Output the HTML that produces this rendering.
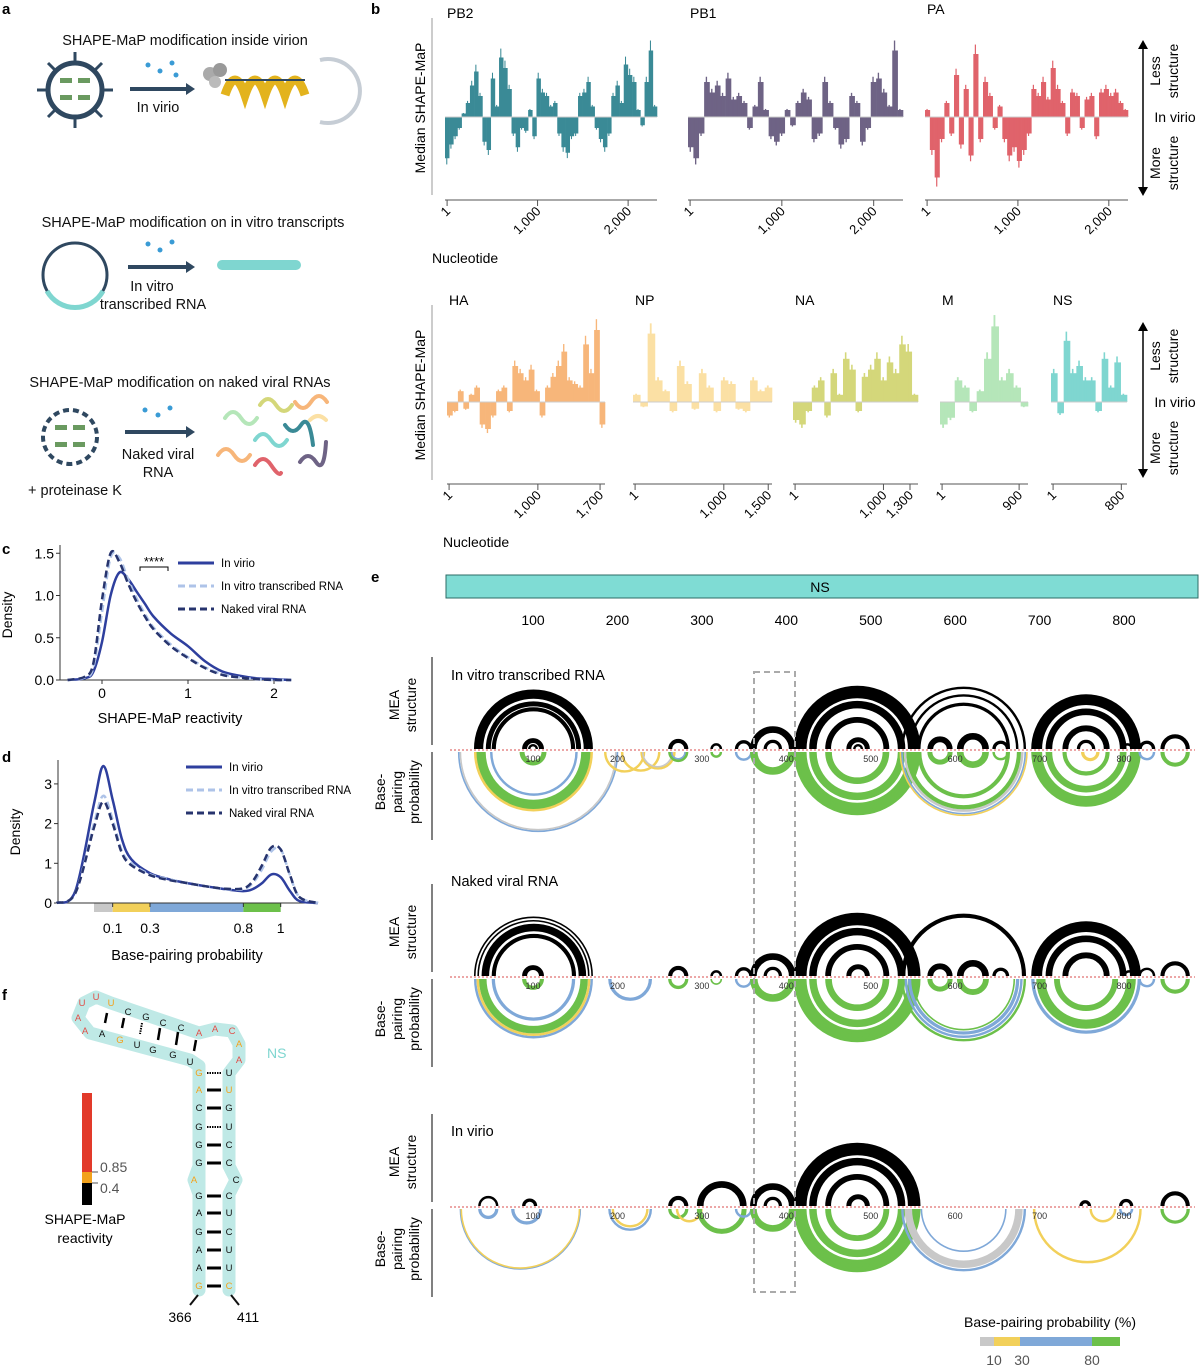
<!DOCTYPE html>
<html><head><meta charset="utf-8"><style>
html,body{margin:0;padding:0;background:#fff}
svg{display:block;font-family:"Liberation Sans",sans-serif}
</style></head><body>
<svg id="fig" width="1200" height="1367" viewBox="0 0 1200 1367">
<g id="labels" font-weight="bold" font-size="15">
<text x="2" y="14">a</text>
<text x="371" y="14">b</text>
<text x="2" y="554">c</text>
<text x="2" y="762">d</text>
<text x="371" y="582">e</text>
<text x="2" y="1000">f</text>
</g>

<!-- Panel a -->
<g font-size="14.5" fill="#111" text-anchor="middle">
<text x="185" y="45">SHAPE-MaP modification inside virion</text>
<g>
<circle cx="75" cy="90" r="27" fill="none" stroke="#2f4860" stroke-width="5"/>
<g stroke="#2f4860" stroke-width="3"><line x1="75" y1="63" x2="75" y2="52"/><line x1="75" y1="117" x2="75" y2="128"/><line x1="48" y1="90" x2="37" y2="90"/><line x1="102" y1="90" x2="113" y2="90"/><line x1="56" y1="71" x2="48" y2="63"/><line x1="94" y1="71" x2="102" y2="63"/><line x1="56" y1="109" x2="48" y2="117"/><line x1="94" y1="109" x2="102" y2="117"/></g>
<g fill="#6a9a60"><rect x="60" y="78" width="12" height="5"/><rect x="78" y="78" width="12" height="5"/><rect x="60" y="95" width="12" height="5"/><rect x="78" y="95" width="12" height="5"/></g>
</g>
<g fill="#3a9bd5"><circle cx="148" cy="65" r="2.5"/><circle cx="160" cy="71" r="2.5"/><circle cx="172" cy="63" r="2.5"/><circle cx="176" cy="75" r="2.5"/></g>
<line x1="130" y1="89" x2="186" y2="89" stroke="#2f4860" stroke-width="4"/><polygon points="186,83 195,89 186,95" fill="#2f4860"/>
<text x="158" y="112">In virio</text>
<g>
<circle cx="210" cy="74" r="7" fill="#aaa"/><circle cx="220" cy="70" r="7" fill="#999"/><circle cx="215" cy="82" r="6" fill="#bbb"/>
<path d="M225 95 Q235 65 245 95 Q255 65 265 95 Q275 65 285 95 Q295 65 305 95" fill="none" stroke="#e3b31d" stroke-width="9"/>
<path d="M225 80 L305 80" stroke="#2f4860" stroke-width="2"/>
<path d="M320 60 A32 32 0 1 1 320 122" fill="none" stroke="#c6cdd5" stroke-width="4"/>
</g>
<text x="193" y="227">SHAPE-MaP modification on in vitro transcripts</text>
<circle cx="75" cy="275" r="32" fill="none" stroke="#2f4860" stroke-width="3"/>
<path d="M47 291 A32 32 0 0 0 103 291" fill="none" stroke="#7fd6d0" stroke-width="5"/>
<g fill="#3a9bd5"><circle cx="148" cy="244" r="2.5"/><circle cx="160" cy="250" r="2.5"/><circle cx="172" cy="242" r="2.5"/></g>
<line x1="128" y1="267" x2="186" y2="267" stroke="#2f4860" stroke-width="4"/><polygon points="186,261 195,267 186,273" fill="#2f4860"/>
<text x="152" y="291">In vitro</text>
<text x="153" y="309">transcribed RNA</text>
<line x1="222" y1="265" x2="296" y2="265" stroke="#7fd6d0" stroke-width="10" stroke-linecap="round"/>
<text x="180" y="387">SHAPE-MaP modification on naked viral RNAs</text>
<circle cx="70" cy="437" r="27" fill="none" stroke="#2f4860" stroke-width="4" stroke-dasharray="6 4"/>
<g fill="#6a9a60"><rect x="55" y="425" width="12" height="5"/><rect x="73" y="425" width="12" height="5"/><rect x="55" y="442" width="12" height="5"/><rect x="73" y="442" width="12" height="5"/></g>
<g fill="#3a9bd5"><circle cx="145" cy="410" r="2.5"/><circle cx="158" cy="415" r="2.5"/><circle cx="170" cy="408" r="2.5"/></g>
<line x1="125" y1="432" x2="186" y2="432" stroke="#2f4860" stroke-width="4"/><polygon points="186,426 195,432 186,438" fill="#2f4860"/>
<text x="158" y="459">Naked viral</text>
<text x="158" y="477">RNA</text>
<text x="75" y="495">+ proteinase K</text>
<g fill="none" stroke-width="4" stroke-linecap="round">
<path d="M225 418 q8 -12 16 0 t16 0" stroke="#b5e6b9"/><path d="M260 405 q8 -12 16 0 t16 0" stroke="#d4d77a"/><path d="M295 402 q8 12 16 0 t16 0" stroke="#f7b67a"/>
<path d="M255 440 q8 -12 16 0 t16 0" stroke="#7fd6d0"/><path d="M285 425 q8 12 16 0 t12 20" stroke="#3a8a96"/><path d="M218 455 q8 -12 16 0 t16 0" stroke="#f7b67a"/>
<path d="M255 465 q8 -12 16 0 t10 8" stroke="#e0636b"/><path d="M300 462 q8 -12 16 0 t10 -20" stroke="#6e6385"/><path d="M310 420 q8 -8 16 0" stroke="#fbe0a4"/>
</g>
</g>

<g id="panelB"></g>
<g id="panelC"></g>
<g id="panelD"></g>
<g id="panelE"></g>

<!-- Panel f -->
<g>
<path d="M199 1290 L199 1166 L194 1180 L199 1194 M199 1166 L199 1066 L190 1060 L90 1033 L78 1018 L84 1003 L96 997 L111 1003 L199 1033 L215 1029 L232 1031 L239 1044 L239 1060 L229 1073 L229 1166 L236 1180 L229 1194 L229 1290" fill="none" stroke="#bfe9e6" stroke-width="13" stroke-linejoin="round" stroke-linecap="round"/>
<g id="bases" font-size="9.5" text-anchor="middle"></g>
<text x="267" y="1058" font-size="14" fill="#7fd6d0">NS</text>
<line x1="198" y1="1295" x2="190" y2="1305" stroke="#111" stroke-width="2"/><line x1="231" y1="1295" x2="239" y2="1305" stroke="#111" stroke-width="2"/>
<text x="180" y="1322" font-size="14" text-anchor="middle">366</text>
<text x="248" y="1322" font-size="14" text-anchor="middle">411</text>
<rect x="82" y="1093" width="10" height="79" fill="#e23a2a"/>
<rect x="82" y="1172" width="10" height="11" fill="#f2a21c"/>
<rect x="82" y="1183" width="10" height="22" fill="#000"/>
<g font-size="14" fill="#555"><line x1="92" y1="1172" x2="98" y2="1172" stroke="#555"/><text x="100" y="1172">0.85</text><line x1="92" y1="1183" x2="98" y2="1183" stroke="#555"/><text x="100" y="1193">0.4</text></g>
<text x="85" y="1224" font-size="14" text-anchor="middle">SHAPE-MaP</text>
<text x="85" y="1243" font-size="14" text-anchor="middle">reactivity</text>
</g>
</svg>
<script>
// ===== Panel b data =====
const pb2Vals=[-0.75,-0.5,-0.35,-0.2,0.05,0.2,0.45,0.65,0.3,-0.45,-0.6,0.55,0.15,0.85,0.7,0.4,-0.3,-0.55,-0.2,-0.25,0.1,-0.35,0.55,0.35,0.3,0.15,0.2,-0.3,-0.55,-0.65,-0.35,-0.3,0.3,0.35,0.5,0.15,-0.2,-0.4,-0.55,-0.3,0.3,0.45,0.2,0.75,0.6,0.5,0.1,-0.15,0.5,0.95,0.15];
const pb1Vals=[-0.55,-0.75,-0.3,0.5,0.35,0.45,0.3,0.55,0.25,0.3,0.2,-0.2,0.15,0.5,0.1,-0.35,-0.45,-0.3,0.1,-0.15,0.2,0.35,0.25,-0.4,-0.3,0.5,0.2,-0.2,-0.5,-0.4,0.3,0.2,-0.45,-0.2,0.5,0.55,0.35,0.15,0.95,0.1];
const paVals=[0.1,-0.6,-1.1,-0.4,0.2,-0.3,0.6,-0.5,0.4,-0.7,0.9,-0.4,0.5,0.3,-0.2,0.15,-0.4,-0.7,-0.55,-0.8,-0.6,-0.3,0.4,0.3,0.5,0.25,0.7,0.4,0.2,-0.3,0.35,0.3,-0.2,0.25,0.3,-0.35,0.35,0.4,0.3,0.35,0.2,0.1];
const haVals=[-0.3,-0.2,0.15,-0.15,0.1,0.2,-0.5,-0.6,-0.3,0.15,0.2,-0.2,0.5,0.4,0.3,0.45,0.15,-0.3,0.2,0.35,0.5,0.7,0.3,0.25,0.2,0.8,0.4,1.0,-0.5];
const npVals=[0.1,-0.1,0.95,0.3,0.15,-0.2,0.5,0.25,-0.15,0.4,0.2,-0.2,0.3,0.25,-0.15,-0.2,0.3,0.15,0.2];
const naVals=[-0.4,-0.5,-0.2,0.2,0.3,-0.3,0.4,0.1,0.6,0.45,-0.2,0.35,0.45,0.6,0.3,0.55,0.4,0.8,0.7,0.1];
const mVals=[-0.5,-0.35,0.3,0.2,-0.2,0.15,0.6,1.05,0.3,0.4,0.2,-0.1];
const nsVals=[0.4,-0.25,0.85,0.4,0.5,0.3,0.3,-0.2,0.6,0.2,0.55,0.1];
const segNames=["PB2","PB1","PA","HA","NP","NA","M","NS"];
const segLengths=[2341,2341,2233,1778,1565,1413,1027,890];
const segTicks=[["1","1,000","2,000"],["1","1,000","2,000"],["1","1,000","2,000"],["1","1,000","1,700"],["1","1,000","1,500"],["1","1,000","1,300"],["1","900"],["1","800"]];
const segTickPos=[[1,1000,2000],[1,1000,2000],[1,1000,2000],[1,1000,1700],[1,1000,1500],[1,1000,1300],[1,900],[1,800]];
// ===== Panel c data =====
const cX=[-0.4,-0.2,-0.1,0,0.1,0.2,0.3,0.4,0.5,0.6,0.8,1.0,1.2,1.4,1.6,1.8,2.0,2.2];
const cVirio=[0,0.02,0.1,0.45,1.0,1.27,1.2,1.05,0.9,0.75,0.55,0.4,0.22,0.1,0.05,0.02,0.01,0];
const cVitro=[0,0.03,0.15,0.8,1.45,1.45,1.2,0.97,0.78,0.62,0.42,0.27,0.15,0.07,0.03,0.01,0,0];
const cNaked=[0,0.04,0.2,0.95,1.5,1.4,1.15,0.93,0.75,0.6,0.4,0.26,0.14,0.06,0.03,0.01,0,0];
const cYTicks=["0.0","0.5","1.0","1.5"];
const cXTicks=["0","1","2"];
// ===== Panel d data =====
const dX=[-0.2,-0.1,0,0.05,0.1,0.15,0.2,0.3,0.4,0.5,0.6,0.7,0.8,0.85,0.9,0.95,1.0,1.05,1.1,1.2];
const dVirio=[0,0.3,2.5,3.45,2.6,1.6,1.1,0.75,0.6,0.5,0.42,0.35,0.3,0.35,0.5,0.72,0.65,0.3,0.05,0];
const dVitro=[0,0.25,2.0,2.7,2.1,1.3,1.0,0.72,0.6,0.5,0.42,0.35,0.35,0.5,0.85,1.3,1.35,0.7,0.15,0];
const dNaked=[0,0.25,1.9,2.55,2.0,1.25,0.95,0.7,0.58,0.5,0.42,0.36,0.37,0.55,0.95,1.4,1.35,0.7,0.15,0];
const dYTicks=["0","1","2","3"];
const dXTicks=["0.1","0.3","0.8","1"];
// ===== Panel e data =====
const meaVitro=[[31,170,10],[45,156,5],[52,149,4],[88,112,5],[95,105,2],[261,283,4],[311,323,2],[340,359,3],[358,410,7],[374,394,3],[410,558,14],[428,540,8],[447,521,6],[472,498,5],[480,490,2],[537,683,2],[546,674,2],[556,664,3],[568,596,6],[603,639,7],[645,663,3],[691,819,12],[708,802,7],[728,782,6],[745,765,3],[798,810,2],[818,836,3],[844,877,4]];
const bppVitro=[[12,200,1,'b'],[14,198,1,'k'],[31,170,3,'y'],[34,167,10,'g'],[50,152,2,'b'],[85,115,5,'g'],[185,232,2,'y'],[205,250,2,'y'],[228,268,2,'y'],[230,265,1,'k'],[261,283,3,'g'],[264,280,1,'b'],[311,323,2,'g'],[340,359,2,'b'],[358,410,8,'g'],[410,558,14,'g'],[428,540,8,'g'],[447,521,7,'g'],[535,685,1,'y'],[537,683,1,'b'],[540,680,2,'k'],[543,677,4,'g'],[556,664,4,'g'],[568,596,5,'g'],[603,639,7,'g'],[645,663,2,'g'],[691,819,12,'g'],[708,802,7,'g'],[728,782,4,'g'],[750,770,3,'y'],[818,836,2,'b'],[844,877,4,'g']];
const meaNaked=[[31,170,1],[35,166,1],[40,162,8],[52,150,4],[88,112,5],[261,283,4],[311,323,2],[340,359,3],[358,410,7],[374,394,3],[410,558,14],[428,540,8],[447,521,6],[472,498,5],[537,683,4],[568,596,6],[603,639,7],[645,663,3],[691,819,12],[708,802,7],[728,782,6],[800,812,2],[818,836,2],[844,877,4]];
const bppNaked=[[31,170,2,'b'],[34,167,2,'y'],[37,164,8,'g'],[52,149,3,'b'],[88,112,4,'g'],[190,240,3,'b'],[261,283,3,'g'],[311,323,1,'g'],[340,359,2,'b'],[358,410,8,'g'],[410,558,14,'g'],[428,540,8,'g'],[447,521,7,'g'],[537,683,2,'g'],[541,679,2,'b'],[545,675,3,'b'],[550,670,1,'g'],[568,596,5,'g'],[603,639,6,'g'],[691,819,3,'b'],[697,813,10,'g'],[718,792,6,'g'],[818,836,2,'b'],[844,877,4,'g']];
const meaVirio=[[36,58,2],[88,104,3],[261,283,4],[295,352,7],[358,410,7],[374,394,3],[410,558,14],[428,540,8],[447,521,6],[472,498,5],[748,760,3],[795,810,3],[844,877,4]];
const bppVirio=[[14,156,1,'b'],[15,155,1,'y'],[36,58,3,'b'],[75,110,3,'b'],[190,240,2,'b'],[194,236,2,'y'],[261,283,3,'g'],[270,300,2,'y'],[295,352,5,'g'],[340,359,2,'b'],[358,410,7,'g'],[410,558,14,'g'],[428,540,8,'g'],[447,521,6,'g'],[537,683,2,'b'],[541,679,8,'k'],[560,660,1,'b'],[693,820,1,'y'],[694,819,1,'y'],[760,790,2,'y'],[795,810,2,'b'],[844,877,3,'g']];
const nsTicks=[100,200,300,400,500,600,700,800];

const NS="http://www.w3.org/2000/svg";
function mk(tag,attrs,parent,txt){const e=document.createElementNS(NS,tag);for(const k in attrs)e.setAttribute(k,attrs[k]);if(txt!==undefined)e.textContent=txt;parent.appendChild(e);return e;}

// ---- Panel b ----
const B=document.getElementById('panelB');
const segColors=["#3a8a96","#6e6385","#e0636b","#f7b67a","#fbe0a4","#d4d77a","#b5e6b9","#7fd6d0"];
const segBox=[[445,657,117,70,55],[688,903,117,70,55],[925,1128,117,70,55],[447,605,402,72,45],[633,772,402,72,45],[793,918,402,72,45],[940,1028,402,72,45],[1051,1127,402,72,45]];
const segData=[pb2Vals,pb1Vals,paVals,haVals,npVals,naVals,mVals,nsVals];
const labelY=[18,18,14,305,305,305,305,305];
segData.forEach((vals,s)=>{
  const [x0,x1,base,up,dn]=segBox[s];
  const g=mk('g',{},B);
  
  
  const t=mk('text',{x:x0+2,y:labelY[s],'font-size':14},g,segNames[s]);
  
  
  const w=(x1-x0)/vals.length;
  vals.forEach((v,i)=>{
    const h=v>0?v*up:-v*dn;
    const r=mk('rect',{x:x0+i*w,y:v>0?base-h:base,width:w+0.3,height:Math.max(h,0.5),fill:segColors[s]},g);
    
    
    const r2=mk('rect',{x:x0+i*w+w*0.3,y:v>0?base-h*1.15:base,width:w*0.25,height:h*1.15,fill:segColors[s]},g);
    
    
  });
  mk('line',{x1:x0,y1:base,x2:x1,y2:base,stroke:'#ccc','stroke-width':1},g);
  const ay=s<3?200:484;
  mk('line',{x1:x0,y1:ay,x2:x1,y2:ay,stroke:'#555','stroke-width':1},g);
  const L=segLengths[s];
  segTickPos[s].forEach((p,k)=>{
    const tx=x0+2+(p/L)*(x1-x0);
    mk('line',{x1:tx,y1:ay,x2:tx,y2:ay+6,stroke:'#555'},g);
    const lb=mk('text',{x:tx+4,y:ay+12,'font-size':13,'text-anchor':'end',transform:`rotate(-45 ${tx+4} ${ay+12})`},g,segTicks[s][k]);
    
    
  });
});
[[18,195,108],[305,480,395]].forEach(([y0,y1,yc],r)=>{
  mk('line',{x1:432,y1:y0,x2:432,y2:y1,stroke:'#999'},B);
  const t=mk('text',{x:0,y:0,'font-size':14,'text-anchor':'middle',transform:`translate(425 ${yc}) rotate(-90)`},B,'Median SHAPE-MaP');
  
  
  const ax=1143, ya=r?322:40, yb=r?478:196, ym=r?402:117;
  mk('line',{x1:ax,y1:ya+8,x2:ax,y2:yb-8,stroke:'#000','stroke-width':1.5},B);
  mk('polygon',{points:`${ax-5},${ya+9} ${ax},${ya} ${ax+5},${ya+9}`},B);
  mk('polygon',{points:`${ax-5},${yb-9} ${ax},${yb} ${ax+5},${yb-9}`},B);
  const tv=mk('text',{x:1175,y:ym+5,'font-size':14,'text-anchor':'middle'},B,'In virio');
  
  
  [['Less',ym-46,-8],['structure',ym-46,10],['More',ym+46,-8],['structure',ym+46,10]].forEach(([s,yc2,dx])=>{
    const tt=mk('text',{x:0,y:0,'font-size':14,'text-anchor':'middle',transform:`translate(${1168+dx} ${yc2}) rotate(-90)`},B,s);
    
    
  });
});
[[432,263],[443,547]].forEach(([x,y])=>{const t=mk('text',{x,y,'font-size':14},B,'Nucleotide');});

function smooth(pts){let d=`M${pts[0][0]},${pts[0][1]}`;for(let i=0;i<pts.length-1;i++){const p0=pts[Math.max(i-1,0)],p1=pts[i],p2=pts[i+1],p3=pts[Math.min(i+2,pts.length-1)];d+=` C${p1[0]+(p2[0]-p0[0])/6},${p1[1]+(p2[1]-p0[1])/6} ${p2[0]-(p3[0]-p1[0])/6},${p2[1]-(p3[1]-p1[1])/6} ${p2[0]},${p2[1]}`;}return d;}
function densityPanel(G,xs,series,xScale,yScale,xl,xr,yTop,yBot,yTicks,xTicks,xTickVals,legX,legY,xTitle,xTitleX,xTitleY,dTitleX,dTitleY){
  mk('line',{x1:xl,y1:yTop,x2:xl,y2:yBot,stroke:'#333'},G);
  mk('line',{x1:xl,y1:yBot,x2:xr,y2:yBot,stroke:'#333'},G);
  yTicks.forEach(t=>{const y=yScale(parseFloat(t));mk('line',{x1:xl-4,y1:y,x2:xl,y2:y,stroke:'#333'},G);const e=mk('text',{x:xl-6,y:y+5,'font-size':14,'text-anchor':'end'},G,t);});
  xTicks.forEach((t,k)=>{const x=xScale(xTickVals[k]);mk('line',{x1:x,y1:yBot,x2:x,y2:yBot+4,stroke:'#333'},G);const e=mk('text',{x:x,y:yBot+18+(G.id==='panelD'?12:0),'font-size':14,'text-anchor':'middle'},G,t);});
  const styles=[['#2e3f9e','',2.5,'In virio'],['#aec3e8','7 4',2.5,'In vitro transcribed RNA'],['#27346e','7 4',2.5,'Naked viral RNA']];
  series.forEach((vals,s)=>{
    const p=mk('path',{d:smooth(xs.map((x,i)=>[xScale(x),yScale(vals[i])])),fill:'none',stroke:styles[s][0],'stroke-width':styles[s][2],'stroke-dasharray':styles[s][1]},G);
    
    
    const ly=legY+s*23;
    const ll=mk('line',{x1:legX,y1:ly,x2:legX+36,y2:ly,stroke:styles[s][0],'stroke-width':3,'stroke-dasharray':styles[s][1]},G);
    
    
    const lt=mk('text',{x:legX+43,y:ly+4,'font-size':11.5},G,styles[s][3]);
    
    
  });
  const xt=mk('text',{x:xTitleX,y:xTitleY,'font-size':14.5,'text-anchor':'middle'},G,xTitle);
  
  const dt=mk('text',{x:0,y:0,'font-size':14,'text-anchor':'middle',transform:`translate(${dTitleX} ${dTitleY}) rotate(-90)`},G,'Density');
  
}
const C=document.getElementById('panelC');
densityPanel(C,cX,[cVirio,cVitro,cNaked],x=>102+x*86,y=>680-y*84.5,60,285,545,680,cYTicks,cXTicks,[0,1,2],178,563,'SHAPE-MaP reactivity',170,723,12,615);
mk('path',{d:'M140 571 L140 567 L168 567 L168 571',fill:'none',stroke:'#000'},C);
const st=mk('text',{x:154,y:566,'font-size':13,'text-anchor':'middle'},C,'****');
const D=document.getElementById('panelD');
const dxs=x=>94+x*186.7;
[[-0.2,0.1,'#c8c8c8'],[0.1,0.3,'#f2d05a'],[0.3,0.8,'#7fa8d8'],[0.8,1.0,'#6cc04a']].forEach(([a,b,c])=>{const r=mk('rect',{x:dxs(Math.max(a,0)),y:903,width:dxs(b)-dxs(Math.max(a,0)),height:9,fill:c},D);});
densityPanel(D,dX,[dVirio,dVitro,dNaked],dxs,y=>903-y*39.7,58,312,760,903,dYTicks,dXTicks,[0.1,0.3,0.8,1],186,767,'Base-pairing probability',187,960,20,832);

// ---- Panel e ----
const E=document.getElementById('panelE');
const xs=n=>448.6+n*0.8443;
const colMap={g:'#6cc04a',b:'#7fa8d8',y:'#f2d05a',k:'#c8c8c8'};
mk('rect',{x:446,y:575,width:752,height:23,fill:'#7fdcd4',stroke:'#2c6b66','stroke-width':1},E);
const nsT=mk('text',{x:820,y:592,'font-size':14,'text-anchor':'middle'},E,'NS');
nsTicks.forEach(n=>{const t=mk('text',{x:xs(n),y:625,'font-size':14,'text-anchor':'middle'},E,String(n));});
const sections=[["In vitro transcribed RNA",750,meaVitro,bppVitro,680],["Naked viral RNA",977,meaNaked,bppNaked,886],["In virio",1207,meaVirio,bppVirio,1136]];
sections.forEach(([title,base,mea,bpp,ty],si)=>{
  const g=mk('g',{},E);
  
  
  const tt=mk('text',{x:451,y:ty,'font-size':14.5},g,title);
  
  mk('line',{x1:432,y1:base-93,x2:432,y2:base-5,stroke:'#000'},g);
  mk('line',{x1:432,y1:base+2,x2:432,y2:base+90,stroke:'#000'},g);
  [['MEA',-8],['structure',9]].forEach(([s,dx])=>{const e=mk('text',{x:0,y:0,'font-size':14,'text-anchor':'middle',transform:`translate(${407+dx} ${base-45}) rotate(-90)`},g,s);});
  [['Base-',-17],['pairing',0],['probability',17]].forEach(([s,dx])=>{const e=mk('text',{x:0,y:0,'font-size':14,'text-anchor':'middle',transform:`translate(${402+dx} ${base+42}) rotate(-90)`},g,s);});
  bpp.forEach(([i,j,len,c])=>{for(let k=0;k<len;k++){const a=xs(i+k),b=xs(j-k),r=(b-a)/2;const p=mk('path',{d:`M${a},${base+2} A${r},${r} 0 0 0 ${b},${base+2}`,fill:'none',stroke:colMap[c],'stroke-width':1.6},g);}});
  mea.forEach(([i,j,len])=>{for(let k=0;k<len;k++){const a=xs(i+k),b=xs(j-k),r=(b-a)/2;const p=mk('path',{d:`M${a},${base-1} A${r},${r} 0 0 1 ${b},${base-1}`,fill:'none',stroke:'#000','stroke-width':1.6},g);}});
  mk('line',{x1:450,y1:base,x2:1195,y2:base,stroke:'#e07070','stroke-width':1.2,'stroke-dasharray':'2 2'},g);
  nsTicks.forEach(n=>{const t=mk('text',{x:xs(n),y:base+12,'font-size':9,'text-anchor':'middle',fill:'#333'},g,String(n));});
});
const box=mk('rect',{x:754,y:672,width:41,height:620,fill:'none',stroke:'#aaa','stroke-width':2,'stroke-dasharray':'6 4'},E);

const lgT=mk('text',{x:1050,y:1327,'font-size':14,'text-anchor':'middle'},E,'Base-pairing probability (%)');
[[980,994,'#c8c8c8'],[994,1020,'#f2d05a'],[1020,1092,'#7fa8d8'],[1092,1120,'#6cc04a']].forEach(([a,b,c])=>{const r=mk('rect',{x:a,y:1337,width:b-a,height:9,fill:c},E);});
[['10',994],['30',1022],['80',1092]].forEach(([s,x])=>{const t=mk('text',{x,y:1365,'font-size':14,'text-anchor':'middle',fill:'#555'},E,s);});

// ---- Panel f bases ----
const F=document.getElementById('bases');
const R='#e0504a',O='#f2a21c',K='#111';
const loopBases=[['U',82,1006,R],['U',96,1000,R],['U',111,1006,O],['A',78,1021,R],['A',85,1034,R],['A',102,1037,K],['G',120,1043,O],['U',137,1048,K],['G',153,1053,K],['G',173,1058,K],['U',190,1065,K],['C',128,1015,K],['G',146,1020,K],['C',163,1026,K],['C',181,1031,K],['A',199,1036,R],['A',215,1032,R],['C',232,1034,R],['A',239,1047,O],['A',239,1063,R]];
loopBases.forEach(([b,x,y,c])=>{const t=mk('text',{x,y,fill:c},F,b);});
const leftStem=[['G',O],['A',O],['C',K],['G',K],['G',K],['G',K],['G',K],['A',K],['G',K],['A',K],['A',K],['G',O]];
const rightStem=[['U',K],['U',O],['G',K],['U',K],['C',K],['C',K],['C',K],['U',K],['C',K],['U',K],['U',K],['C',O]];
const stemY=[1076,1093,1111,1130,1148,1166,1199,1216,1235,1253,1271,1289];
stemY.forEach((y,k)=>{
  const a=mk('text',{x:199,y,fill:leftStem[k][1]},F,leftStem[k][0]);
  const b=mk('text',{x:229,y,fill:rightStem[k][1]},F,rightStem[k][0]);
  const dotted=(k===0||k===3);
  mk('line',{x1:207,y1:y-3,x2:221,y2:y-3,stroke:'#000','stroke-width':dotted?2:3,'stroke-dasharray':dotted?'1.5 1':''},F);
});
[['A',194,1183,O],['C',236,1183,K]].forEach(([b,x,y,c])=>{const t=mk('text',{x,y,fill:c},F,b);});
[[107,1013,105,1023],[124,1018,122,1028],[142,1023,140,1034,1],[160,1028,158,1040],[178,1032,176,1045],[196,1040,194,1051]].forEach(([a,b,c,d,dot])=>mk('line',{x1:a,y1:b,x2:c,y2:d,stroke:'#000','stroke-width':dot?2:2.5,'stroke-dasharray':dot?'1.5 1':''},F));
</script>
</body></html>
